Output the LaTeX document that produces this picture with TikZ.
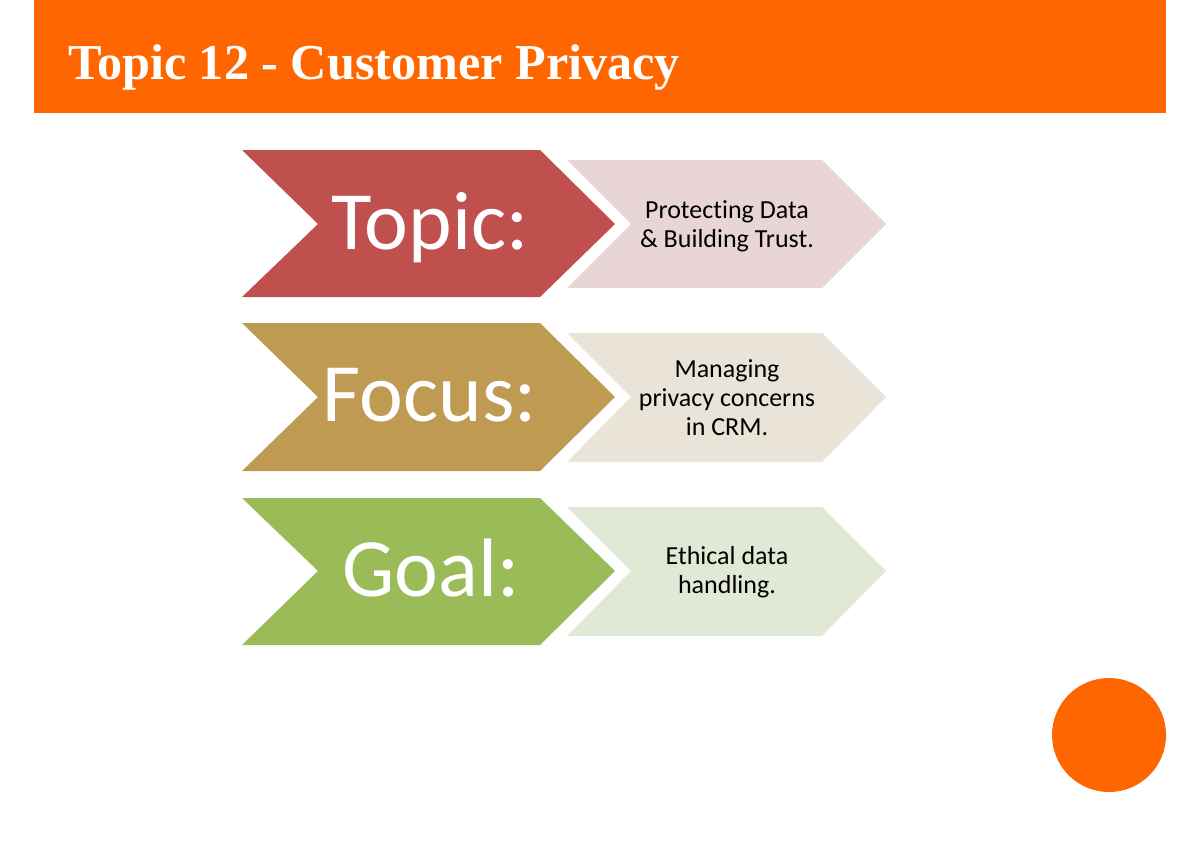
\documentclass[tikz,border=0pt]{standalone}
\usepackage{fontspec}
\setmainfont{Liberation Serif}
\newfontfamily\calibri[Ligatures={NoCommon},Contextuals={NoAlternate}]{Carlito}
\definecolor{barorange}{HTML}{FF6600}
\definecolor{topicred}{HTML}{C0504D}
\definecolor{topiclight}{HTML}{E9D5D5}
\definecolor{focustan}{HTML}{BE9A52}
\definecolor{focuslight}{HTML}{EAE4D8}
\definecolor{goalgreen}{HTML}{9BBB59}
\definecolor{goallight}{HTML}{E1E8D6}
\tikzset{
  bigword/.style={text=white,font=\calibri\fontsize{59}{62}\selectfont,anchor=base},
  smallword/.style={text=black,font=\calibri\fontsize{18.5}{20.6}\selectfont,align=center}
}
\begin{document}
\begin{tikzpicture}[x=0.025cm,y=-0.025cm]
      \useasboundingbox (0,0) rectangle (1200,849);
      % header bar
      \fill[barorange] (34,0) rectangle (1166,113);
      \node[anchor=base west,text=white,font=\bfseries\fontsize{35.7}{40}\selectfont,inner sep=0pt] (title) at (68,79){Topic 12 - Customer Privacy};

      % row one
      \fill[topicred] (242,150) -- (540,150) -- (615,224) -- (540,297) -- (242,297) -- (318,224) -- cycle;
      \fill[topiclight] (567,160) -- (822,160) -- (886,224) -- (822,288) -- (567,288) -- (631,224) -- cycle;
      \node[bigword] (topic) at (430,249){Topic:};
      \node[smallword] (topictext) at (727,226){Protec\kern0pt ting Data\\\& Building Trust.};

      % row two
      \fill[focustan] (242,323) -- (540,323) -- (615,397) -- (540,471) -- (242,471) -- (318,397) -- cycle;
      \fill[focuslight] (567,333) -- (822,333) -- (886,397) -- (822,462) -- (567,462) -- (631,397) -- cycle;
      \node[bigword] (focus) at (430,421){Focus:};
      \node[smallword] (focustext) at (727,398){Managing\\privacy concerns\\in CRM.};

      % row three
      \fill[goalgreen] (242,498) -- (540,498) -- (615,571) -- (540,645) -- (242,645) -- (318,571) -- cycle;
      \fill[goallight] (567,507) -- (822,507) -- (886,571) -- (822,636) -- (567,636) -- (631,571) -- cycle;
      \node[bigword] (goal) at (431,596){Goal:};
      \node[smallword] (goaltext) at (727,572){Ethical data\\handling.};

      % corner dot
      \fill[barorange] (1109,735) circle (57);
    \end{tikzpicture}
\end{document}
